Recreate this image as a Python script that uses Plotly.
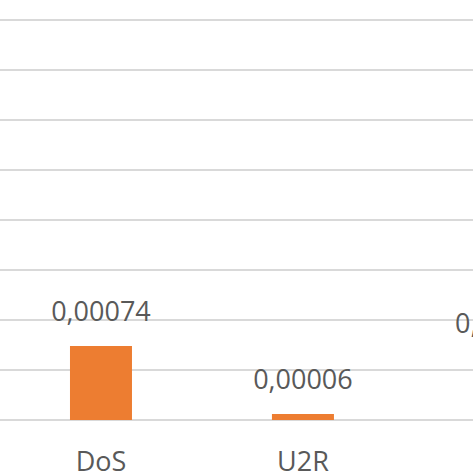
import plotly.graph_objects as go

categories = ["DoS", "U2R", "R2L"]
values = [0.00074, 0.00006, 0.00062]
labels = ["0,00074", "0,00006", "0,00062"]

FONT = "Open Sans"
GREY = "#595959"

fig = go.Figure()
fig.add_trace(go.Bar(
    x=categories, y=values,
    marker=dict(color="#ED7D31", line=dict(width=0)),
    width=0.307,
    hoverinfo="skip",
))
fig.add_trace(go.Scatter(
    x=categories, y=values, text=labels,
    mode="markers+text", textposition="top center",
    marker=dict(size=28, color="rgba(0,0,0,0)"),
    textfont=dict(family=FONT, size=27, color=GREY),
    cliponaxis=True, hoverinfo="skip",
))

fig.update_layout(
    width=474, height=474,
    margin=dict(l=0, r=1, t=0, b=54, autoexpand=False),
    paper_bgcolor="white", plot_bgcolor="white",
    showlegend=False,
    separators=",.",
    xaxis=dict(
        type="category", range=[-0.5, 1.842],
        showgrid=False, showline=False, zeroline=False, ticks="",
        tickfont=dict(family=FONT, size=27, color=GREY),
        ticklabelstandoff=23, automargin=False,
    ),
    yaxis=dict(
        range=[0, 0.0042], dtick=0.0005,
        showgrid=True, gridcolor="#d9d9d9", gridwidth=1.5,
        zeroline=True, zerolinecolor="#d9d9d9", zerolinewidth=1.5,
        showticklabels=False, ticks="", showline=False, automargin=False,
    ),
)

fig.write_html("out.html", config={"displayModeBar": False},
               post_script="document.body.style.margin='0';")
